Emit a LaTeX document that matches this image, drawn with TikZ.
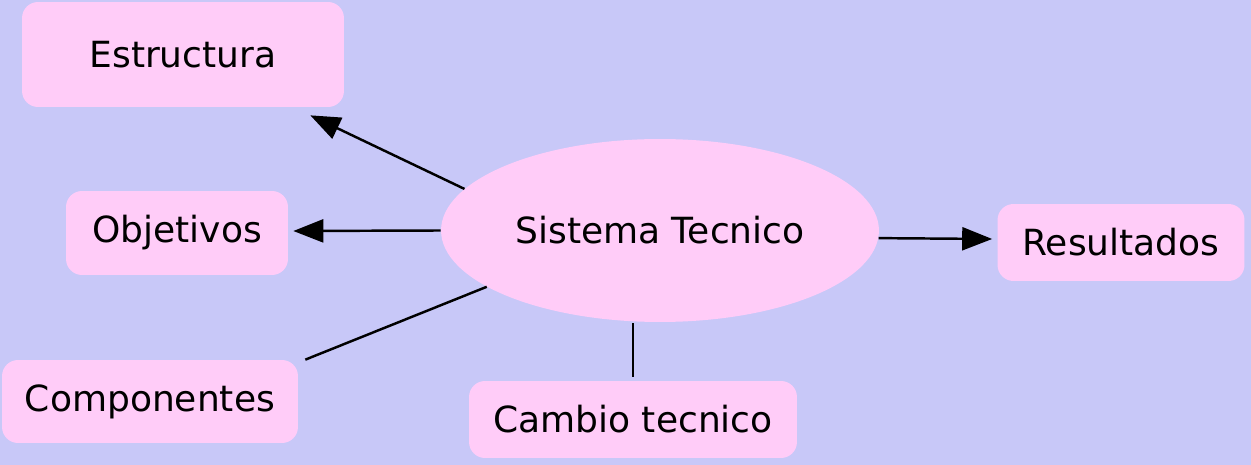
\documentclass[tikz,border=0pt]{standalone}
\usepackage{fontspec}
\setmainfont{DejaVu Sans}
\usetikzlibrary{arrows.meta,calc,shapes.geometric}
\definecolor{bg}{HTML}{C8C8F8}
\definecolor{pk}{HTML}{FFCCF8}
\tikzset{
 box/.style={fill=pk,rounded corners=0.32cm,font=\fontsize{20.5}{24}\selectfont,inner sep=0},
 conn/.style={line width=1.4pt},
 arr/.style={conn,-{Triangle[length=0.6cm,width=0.46cm]}}
}
\begin{document}
\begin{tikzpicture}[x=0.02cm,y=-0.02cm]
\fill[bg] (0,0) rectangle (1251,465);
\useasboundingbox (0,0) rectangle (1251,465);
\node[box,minimum width=6.44cm,minimum height=2.1cm] (estr) at (183,54.5) {Estructura};
\node[box,minimum width=4.44cm,minimum height=1.68cm] (obj) at (177,233) {Objetivos};
\node[box,minimum width=5.92cm,minimum height=1.66cm] (comp) at (150,401.5) {Componentes};
\node[box,minimum width=6.56cm,minimum height=1.54cm] (cam) at (633,419.5) {Cambio tecnico};
\node[box,minimum width=4.94cm,minimum height=1.54cm] (res) at (1121,242.5) {Resultados};
\node[ellipse,fill=pk,minimum width=8.76cm,minimum height=3.66cm,inner sep=0,font=\fontsize{20.5}{24}\selectfont] (ell) at (660,230.5) {Sistema Tecnico};
\coordinate (te) at ($(estr.south east)+(-34,8)$);
\coordinate (to) at ($(obj.east)+(5,-2)$);
\coordinate (tr) at ($(res.west)+(-5,-3.5)$);
\coordinate (tc) at ($(comp.north east)+(7,0)$);
\coordinate (tk) at ($(cam.north)+(0,-4)$);
\coordinate (sk) at ($(cam.north |- ell.south)+(0,1)$);
\draw[arr] (ell.168) -- (te);
\draw[arr] (ell.180) -- (to);
\draw[arr] (ell.-2) -- (tr);
\draw[conn] (ell.198) -- (tc);
\draw[conn] (sk) -- (tk);
\end{tikzpicture}
\end{document}
